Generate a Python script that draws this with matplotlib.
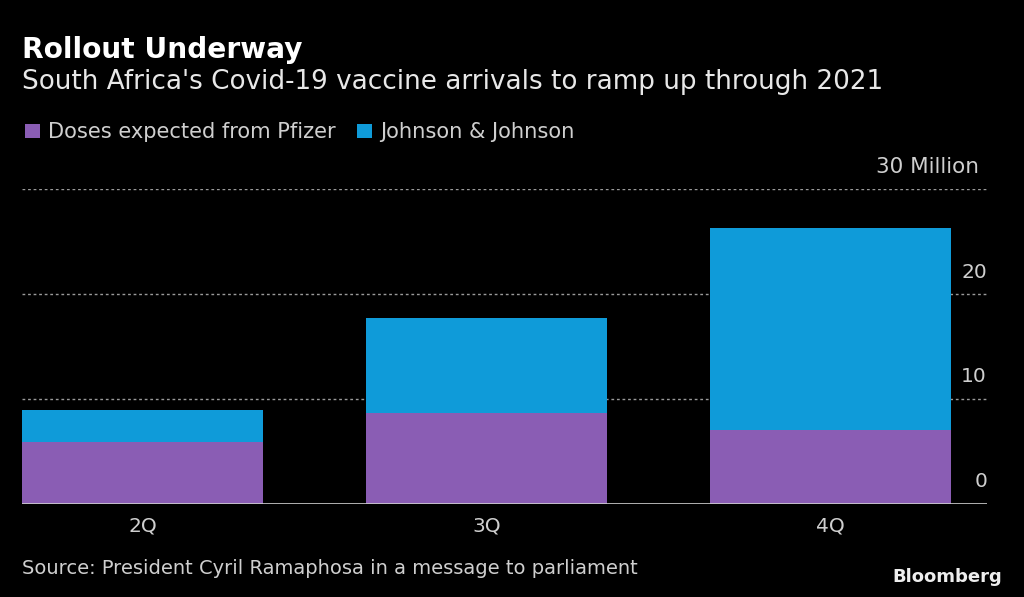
import matplotlib
matplotlib.use("Agg")
import matplotlib.pyplot as plt
from matplotlib.patches import Patch
from matplotlib.transforms import offset_copy
import numpy as np

# data (million doses)
quarters = ["2Q", "3Q", "4Q"]
pfizer = [5.9, 8.6, 7.05]
jnj = [3.0, 9.1, 19.25]
yticks = [0, 10, 20, 30]
ytick_labels = ["0", "10", "20", "30 Million"]

bg = "#000000"
purple = "#8a5db4"
blue = "#0f9bd9"
txt = "#e8e8e8"
grey = "#cfcfcf"

plt.rcParams["font.family"] = ["DejaVu Sans"]

fig = plt.figure(figsize=(10.24, 5.97), dpi=100, facecolor=bg)
ax = fig.add_axes([22 / 1024, (597 - 503.5) / 597, 965 / 1024, (503.5 - 189.5) / 597])
ax.set_facecolor(bg)

x = np.arange(len(quarters))
ax.bar(x, pfizer, width=0.70, color=purple, zorder=3)
ax.bar(x, jnj, width=0.70, bottom=pfizer, color=blue, zorder=3)

ax.set_xlim(-0.35, 2.455)
ax.set_ylim(0, 30)

# grid lines (dotted) except at zero
for v in yticks[1:]:
    ax.axhline(v, color="#9a9a9a", linestyle=(0, (2, 2)), linewidth=1.0, zorder=1)
ax.axhline(0, color=grey, linewidth=1.2, zorder=4)

# y labels sit above grid lines at right edge
lab_tr = offset_copy(ax.get_yaxis_transform(), fig=fig, x=0, y=9, units="points")
top_tr = offset_copy(ax.get_yaxis_transform(), fig=fig, x=-6, y=9, units="points")
for v, lab in zip(yticks, ytick_labels):
    if v == yticks[-1]:
        ax.text(1.0, v, lab, transform=top_tr, ha="right", va="bottom",
                fontsize=15.5, color=grey)
    else:
        ax.text(1.0, v, lab, transform=lab_tr, ha="right", va="bottom",
                fontsize=14.5, color=grey)

ax.set_yticks([])
ax.set_xticks(x)
ax.set_xticklabels(quarters, fontsize=14.5, color=grey)
ax.tick_params(axis="x", length=0, pad=9)
for s in ax.spines.values():
    s.set_visible(False)

fig.text(22 / 1024, 1 - 50 / 597, "Rollout Underway", fontsize=20.2, fontweight="bold",
         color="white", va="center", ha="left")
fig.text(22 / 1024, 1 - 82 / 597, "South Africa's Covid-19 vaccine arrivals to ramp up through 2021",
         fontsize=18.9, color=txt, va="center", ha="left")

handles = [Patch(facecolor=purple), Patch(facecolor=blue)]
fig.legend(handles, ["Doses expected from Pfizer", "Johnson & Johnson"],
           loc="center left", bbox_to_anchor=(25 / 1024, 1 - 132 / 597), ncol=2,
           frameon=False, fontsize=15.1, labelcolor=grey, handlelength=0.72,
           handleheight=0.65, handletextpad=0.38, columnspacing=1.0,
           borderpad=0, borderaxespad=0)

fig.text(22 / 1024, 1 - 568 / 597, "Source: President Cyril Ramaphosa in a message to parliament",
         fontsize=14.0, color=grey, va="center", ha="left")
fig.text(1002 / 1024, 1 - 577 / 597, "Bloomberg", fontsize=13, fontweight="bold",
         color="#eeeeee", va="center", ha="right")

fig.savefig("out.png", dpi=100, facecolor=bg)
